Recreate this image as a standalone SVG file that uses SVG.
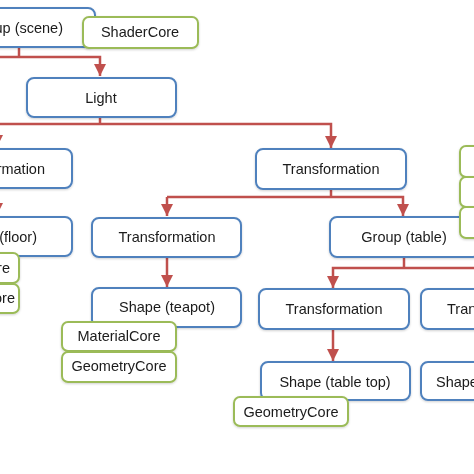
<svg xmlns="http://www.w3.org/2000/svg" width="474" height="474" viewBox="0 0 474 474">
<defs>
<style>
.b{fill:#fff;stroke:#4f81bd;stroke-width:2}
.g{fill:#fff;stroke:#9bbb59;stroke-width:2}
.t{font-family:"Liberation Sans",Arial,sans-serif;font-size:14.5px;fill:#1a1a1a;dominant-baseline:central}
.c{text-anchor:middle}
.e{text-anchor:end}
.s{text-anchor:start}
.ln{fill:none;stroke:#c0504d;stroke-width:2.5}
</style>
<marker id="ah" viewBox="0 0 12 12" refX="12" refY="6" markerWidth="12" markerHeight="12" markerUnits="userSpaceOnUse" orient="auto">
<path d="M0,0 L12,6 L0,12 z" fill="#c0504d"/>
</marker>
<filter id="sh" x="-10%" y="-20%" width="120%" height="150%">
<feDropShadow dx="0" dy="1" stdDeviation="1" flood-color="#000" flood-opacity="0.18"/>
</filter>
</defs>
<rect width="474" height="474" fill="#fff"/>
<g id="connectors">
<path class="ln" d="M-10,57 H100 V76" marker-end="url(#ah)"/>
<path class="ln" d="M19,47 V57"/>
<path class="ln" d="M100,117 V124"/>
<path class="ln" d="M-10,124 H331 V148" marker-end="url(#ah)"/>
<path class="ln" d="M-3,124 V147" marker-end="url(#ah)"/>
<path class="ln" d="M-3,188 V215" marker-end="url(#ah)"/>
<path class="ln" d="M331,189 V197"/>
<path class="ln" d="M167,197 H403 V216" marker-end="url(#ah)"/>
<path class="ln" d="M167,197 V216" marker-end="url(#ah)"/>
<path class="ln" d="M167,257 V287" marker-end="url(#ah)"/>
<path class="ln" d="M404,257 V268"/>
<path class="ln" d="M480,268 H333 V288" marker-end="url(#ah)"/>
<path class="ln" d="M333,329 V361" marker-end="url(#ah)"/>
</g>
<g id="group-scene" filter="url(#sh)"><rect class="b" x="-60" y="8" width="155" height="39" rx="7"/><text class="t e" x="63" y="28">Group (scene)</text></g>
<g id="shadercore" filter="url(#sh)"><rect class="g" x="83" y="17" width="115" height="31" rx="6"/><text class="t c" x="140" y="32">ShaderCore</text></g>
<g id="light" filter="url(#sh)"><rect class="b" x="27" y="78" width="149" height="39" rx="7"/><text class="t c" x="101" y="98">Light</text></g>
<g id="transformation-left" filter="url(#sh)"><rect class="b" x="-78" y="149" width="150" height="39" rx="7"/><text class="t e" x="45" y="169">Transformation</text></g>
<g id="group-floor" filter="url(#sh)"><rect class="b" x="-78" y="217" width="150" height="39" rx="7"/><text class="t e" x="37" y="237">Group (floor)</text></g>
<g id="materialcore-floor" filter="url(#sh)"><rect class="g" x="-95" y="253" width="114" height="30" rx="6"/><text class="t e" x="10" y="268">MaterialCore</text></g>
<g id="geometrycore-floor" filter="url(#sh)"><rect class="g" x="-95" y="284" width="114" height="29" rx="6"/><text class="t e" x="15" y="298">GeometryCore</text></g>
<g id="transformation" filter="url(#sh)"><rect class="b" x="256" y="149" width="150" height="40" rx="7"/><text class="t c" x="331" y="169">Transformation</text></g>
<g id="transformation-teapot" filter="url(#sh)"><rect class="b" x="92" y="218" width="149" height="39" rx="7"/><text class="t c" x="167" y="237">Transformation</text></g>
<g id="shape-teapot" filter="url(#sh)"><rect class="b" x="92" y="288" width="149" height="39" rx="7"/><text class="t c" x="167" y="307">Shape (teapot)</text></g>
<g id="materialcore-teapot" filter="url(#sh)"><rect class="g" x="62" y="322" width="114" height="29" rx="6"/><text class="t c" x="119" y="336">MaterialCore</text></g>
<g id="geometrycore-teapot" filter="url(#sh)"><rect class="g" x="62" y="352" width="114" height="30" rx="6"/><text class="t c" x="119" y="366">GeometryCore</text></g>
<g id="group-table" filter="url(#sh)"><rect class="b" x="330" y="217" width="150" height="40" rx="7"/><text class="t c" x="404" y="237">Group (table)</text></g>
<g id="core-right-1" filter="url(#sh)"><rect class="g" x="460" y="146" width="40" height="31" rx="6"/></g>
<g id="core-right-2" filter="url(#sh)"><rect class="g" x="460" y="177" width="40" height="30" rx="6"/></g>
<g id="core-right-3" filter="url(#sh)"><rect class="g" x="460" y="207" width="40" height="31" rx="6"/></g>
<g id="transformation-tabletop" filter="url(#sh)"><rect class="b" x="259" y="289" width="150" height="40" rx="7"/><text class="t c" x="334" y="309">Transformation</text></g>
<g id="shape-tabletop" filter="url(#sh)"><rect class="b" x="261" y="362" width="149" height="38" rx="7"/><text class="t c" x="335" y="382">Shape (table top)</text></g>
<g id="geometrycore-tabletop" filter="url(#sh)"><rect class="g" x="234" y="397" width="114" height="29" rx="6"/><text class="t c" x="291" y="412">GeometryCore</text></g>
<g id="transformation-right" filter="url(#sh)"><rect class="b" x="421" y="289" width="150" height="40" rx="7"/><text class="t s" x="447" y="309">Transformation</text></g>
<g id="shape-right" filter="url(#sh)"><rect class="b" x="421" y="362" width="150" height="38" rx="7"/><text class="t s" x="436" y="382">Shape</text></g>
</svg>
